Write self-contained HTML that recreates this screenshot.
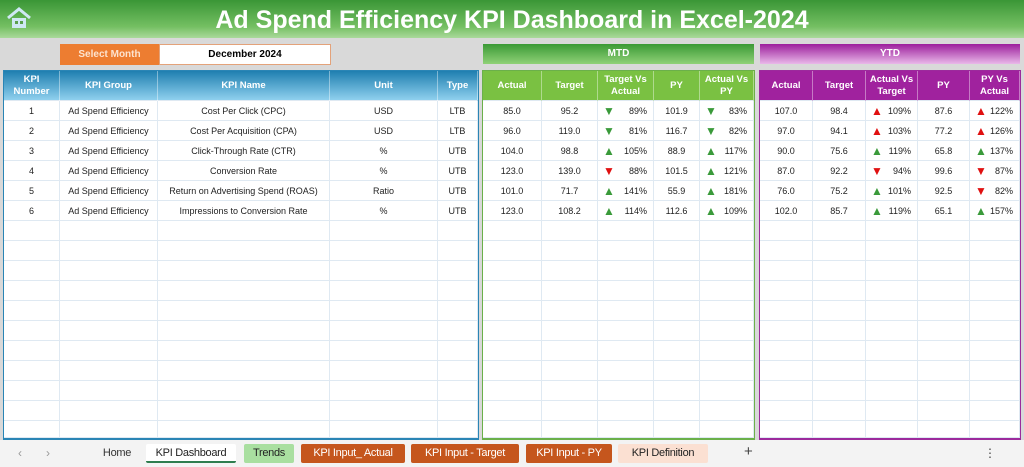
<!DOCTYPE html>
<html><head><meta charset="utf-8"><style>
*{box-sizing:border-box;margin:0;padding:0}
body{width:1024px;height:467px;overflow:hidden;background:#d9d9d9;font-family:"Liberation Sans",sans-serif;position:relative}
.a{position:absolute}
.title{left:0;top:0;width:1024px;height:38px;background:linear-gradient(#3a9636,#74bf62 70%,#a9d99a);color:#fff;font-weight:bold;font-size:25px;text-align:center;line-height:40px}
.cell{position:absolute;font-size:9px;color:#222;display:flex;align-items:center;justify-content:center;border-right:1px solid #dfe9f2;border-bottom:1px solid #dfe9f2;background:#fff}
.hd{color:#fff;font-weight:bold;font-size:9.5px;text-align:center;line-height:12px;border-right:1px solid rgba(255,255,255,.4)}
.tab{position:absolute;top:444px;height:19px;font-size:11px;line-height:19px;text-align:center;border-radius:2px;letter-spacing:-0.3px}
</style></head><body>
<div class="a title">Ad Spend Efficiency KPI Dashboard in Excel-2024</div>
<svg class="a" style="left:6px;top:6px" width="26" height="24"><path d="M2 12 L13 3 L24 12" stroke="#cfe8f5" stroke-width="3" fill="none"/><rect x="6" y="12" width="14" height="10" fill="#cfe8f5"/><rect x="9" y="15" width="3" height="3" fill="#5aa04e"/><rect x="14" y="15" width="3" height="3" fill="#5aa04e"/></svg>
<div class="a" style="left:60px;top:44px;width:99px;height:21px;background:#ed7d31;color:#fde3cf;font-weight:bold;font-size:10px;text-align:center;line-height:21px">Select Month</div>
<div class="a" style="left:159px;top:44px;width:172px;height:21px;background:#fff;border:1px solid #e3a27a;font-weight:bold;font-size:10px;text-align:center;line-height:19px">December 2024</div>
<div class="a" style="left:483px;top:44px;width:271px;height:20px;background:linear-gradient(#3b9a36,#8fd177);color:#fff;font-weight:bold;font-size:10px;text-align:center;line-height:20px">MTD</div>
<div class="a" style="left:760px;top:44px;width:260px;height:20px;background:linear-gradient(#9c1f9c,#e9b8e9);color:#fff;font-weight:bold;font-size:10px;text-align:center;line-height:20px">YTD</div>
<div id="grid"></div>
<div class="a" style="left:0;top:440px;width:1024px;height:27px;background:#f3f3f3"></div>
<div class="a" style="left:18px;top:446px;font-size:12px;color:#999">‹</div>
<div class="a" style="left:46px;top:446px;font-size:12px;color:#999">›</div>
<div class="tab" style="left:98px;width:38px;color:#333">Home</div>
<div class="tab" style="left:146px;width:90px;background:#fff;color:#222;border-bottom:2px solid #2e7d4f">KPI Dashboard</div>
<div class="tab" style="left:244px;width:50px;background:#a9dfa0;color:#222">Trends</div>
<div class="tab" style="left:301px;width:104px;background:#c5561d;color:#fff">KPI Input_ Actual</div>
<div class="tab" style="left:411px;width:108px;background:#c5561d;color:#fff">KPI Input - Target</div>
<div class="tab" style="left:526px;width:86px;background:#c5561d;color:#fff">KPI Input - PY</div>
<div class="tab" style="left:618px;width:90px;background:#fbe0d2;color:#222">KPI Definition</div>
<div class="a" style="left:744px;top:443px;font-size:15px;color:#444">+</div>
<div class="a" style="left:984px;top:446px;font-size:12px;color:#444">⋮</div>
<script>
const kpiNums=["1","2","3","4","5","6"];
const groups=["Ad Spend Efficiency","Ad Spend Efficiency","Ad Spend Efficiency","Ad Spend Efficiency","Ad Spend Efficiency","Ad Spend Efficiency"];
const names=["Cost Per Click (CPC)","Cost Per Acquisition (CPA)","Click-Through Rate (CTR)","Conversion Rate","Return on Advertising Spend (ROAS)","Impressions to Conversion Rate"];
const units=["USD","USD","%","%","Ratio","%"];
const types=["LTB","LTB","UTB","UTB","UTB","UTB"];
const mtdActual=[85.0,96.0,104.0,123.0,101.0,123.0];
const mtdTarget=[95.2,119.0,98.8,139.0,71.7,108.2];
const mtdPY=[101.9,116.7,88.9,101.5,55.9,112.6];
const ytdActual=[107.0,97.0,90.0,87.0,76.0,102.0];
const ytdTarget=[98.4,94.1,75.6,92.2,75.2,85.7];
const ytdPY=[87.6,77.2,65.8,99.6,92.5,65.1];
const grid=document.getElementById('grid');
const ROW0=101,RH=20,NROWS=17;
function box(x,y,w,h,html,cls,name,style){const d=document.createElement('div');d.className=cls;d.style.left=x+'px';d.style.top=y+'px';d.style.width=w+'px';d.style.height=h+'px';if(style)d.style.cssText+=style;d.innerHTML=html;


grid.appendChild(d);return d;}
function arrow(up,good){const c=good?'#3a9a3a':'#e01010';return `<span style="color:${c};font-size:12px;margin-right:auto;padding-left:5px">${up?'▲':'▼'}</span>`;}
function pctCell(v,good){const up=v>=100;return `${arrow(up,good)}<span style="padding-right:6px">${Math.round(v)}%</span>`;}
function panel(cols,heads,hbg,border,rowsFn,name){
  const x0=cols[0],x1=cols[cols.length-1];
  box(x0-1,70,x1-x0+2,370,'','a',name+'-frame','border:2px solid '+border+';background:#fff');
  for(let c=0;c<cols.length-1;c++){
    box(cols[c],71,cols[c+1]-cols[c],30,heads[c],'cell hd',name+'-header-'+c,'background:'+hbg);
    for(let r=0;r<NROWS;r++){
      const txt=r<6?rowsFn(r,c):'';
      box(cols[c],ROW0+r*RH,cols[c+1]-cols[c],RH,txt,'cell',name+'-cell',r===NROWS-1?'height:'+(438-ROW0-r*RH)+'px':'');
    }
  }
}
panel([4,60,158,330,438,478],["KPI<br>Number","KPI Group","KPI Name","Unit","Type"],"linear-gradient(#1f7fb0,#8fd0ee)","#2a85b5",
 (r,c)=>[kpiNums,groups,names,units,types][c][r],'kpi');
panel([483,542,598,654,700,754],["Actual","Target","Target Vs<br>Actual","PY","Actual Vs<br>PY"],"#7ac142","#6bb04a",
 (r,c)=>{const a=mtdActual[r],t=mtdTarget[r],p=mtdPY[r];const lt=types[r]==='LTB';
  if(c===0)return a.toFixed(1);if(c===1)return t.toFixed(1);if(c===3)return p.toFixed(1);
  if(c===2){const v=a/t*100;return pctCell(v,lt?true:v>=100);}
  const v=a/p*100;return pctCell(v,lt?true:v>=100);},'mtd');
panel([760,813,866,918,970,1020],["Actual","Target","Actual Vs<br>Target","PY","PY Vs<br>Actual"],"#a0229e","#9c2a9c",
 (r,c)=>{const a=ytdActual[r],t=ytdTarget[r],p=ytdPY[r];const lt=types[r]==='LTB';
  if(c===0)return a.toFixed(1);if(c===1)return t.toFixed(1);if(c===3)return p.toFixed(1);
  if(c===2){const v=a/t*100;return pctCell(v,lt?v<100:v>=100);}
  const v=a/p*100;return pctCell(v,lt?v<100:v>=100);},'ytd');
</script>
</body></html>
